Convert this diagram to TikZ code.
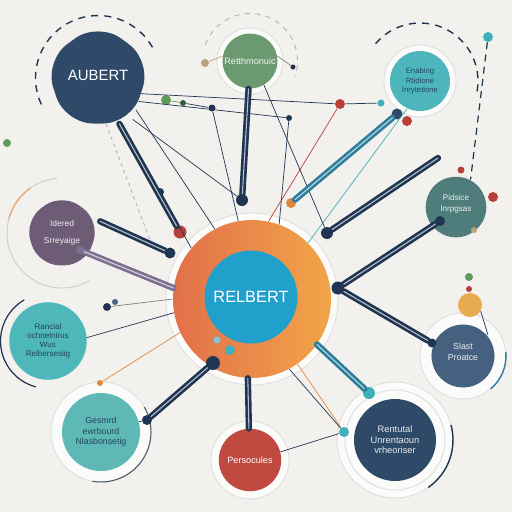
\documentclass[tikz,border=0pt]{standalone}
\usepackage{fontspec}
\setmainfont{Liberation Sans}
\usetikzlibrary{shapes.geometric}
\pgfdeclarelayer{back}
\pgfsetlayers{back,main}

\definecolor{paper}{HTML}{F3F1EE}
\definecolor{ringgray}{HTML}{DFE1E3}
\definecolor{navy}{HTML}{1F3552}
\definecolor{aubnavy}{HTML}{2F4A68}
\definecolor{rethgreen}{HTML}{6B9A70}
\definecolor{enabteal}{HTML}{4DB6BD}
\definecolor{iderplum}{HTML}{6E5B76}
\definecolor{pidsgreen}{HTML}{4F7D7B}
\definecolor{ranteal}{HTML}{4DB7BA}
\definecolor{gesteal}{HTML}{5EB9B6}
\definecolor{persred}{HTML}{C14A40}
\definecolor{slastblue}{HTML}{46617F}
\definecolor{sunorange}{HTML}{E9AB52}
\definecolor{coreL}{HTML}{E2704A}
\definecolor{coreR}{HTML}{F2A548}
\definecolor{relblue}{HTML}{22A0CC}
\definecolor{rodteal}{HTML}{2C7E9C}
\definecolor{rodplum}{HTML}{7C7090}
\definecolor{dotred}{HTML}{B8403A}
\definecolor{dotgreen}{HTML}{5E9A5C}
\definecolor{dottan}{HTML}{B7A47C}
\definecolor{dotteal}{HTML}{3FB0BA}
\definecolor{wireorange}{HTML}{E0873E}
\definecolor{inktext}{HTML}{24465C}

\begin{document}
\begin{tikzpicture}[x=0.02cm, y=-0.02cm,
    topic/.style={circle, inner sep=0pt, align=center},  % round topic
    blob/.style={regular polygon, regular polygon sides=5, rounded corners=12pt, inner sep=0pt, align=center},  % soft pentagon topic
    rod/.style={draw=#1, line width=1.5pt, double=#1!30!white, double distance=0.6pt, line cap=round},
    rod/.default=navy,
    wire/.style={draw=#1, line width=0.4pt},
    wire/.default=navy,
    halo/.style={draw=ringgray, line width=0.6pt, fill=white!70!paper},
    bead/.style={circle, fill=#1, inner sep=0pt}
  ]
    \useasboundingbox (0,0) rectangle (512,512);

    % hub
    \node[topic, minimum size=3.16cm, left color=coreL, right color=coreR] (core) at (252,299) {};
    \node[topic, minimum size=1.86cm, fill=relblue, text=white, font=\fontsize{9.3}{11}\selectfont] (relbert) at (251,297) {RELBERT};

    % topics
    \node[blob, minimum size=2.25cm, rounded corners=16pt, fill=aubnavy, text=white, font=\fontsize{8.5}{10}\selectfont] (aubert) at (98,78) {\raisebox{3pt}{AUBERT}};
    \node[topic, minimum size=1.1cm, fill=rethgreen, text=white!90!rethgreen, font=\fontsize{5.2}{6.5}\selectfont] (reth) at (250,61) {Retthmonuic};
    \node[topic, minimum size=1.2cm, fill=enabteal, text=inktext, font=\fontsize{4.4}{5.2}\selectfont] (enab) at (420,81) {Enabing\\Rtidione\\Inrytetione};
    \node[blob, minimum size=1.6cm, fill=iderplum, text=white!90!iderplum, font=\fontsize{4.8}{10}\selectfont] (ider) at (62,233) {Idered\\Srreyaige};
    \node[blob, minimum size=1.5cm, fill=pidsgreen, text=white!88!pidsgreen, font=\fontsize{4.6}{5.5}\selectfont] (pids) at (456,207) {\raisebox{4pt}{\shortstack{Pidsice\\Inrpgsas}}};
    \node[topic, minimum size=1.55cm, fill=ranteal, text=inktext, font=\fontsize{4.6}{5.2}\selectfont] (ranc) at (48,341) {Rancial\\ochnelnirus\\Wus\\Relbersesiig};
    \node[topic, minimum size=1.56cm, fill=gesteal, text=inktext, font=\fontsize{5}{6}\selectfont] (gesm) at (101,432) {Gesmrd\\ewrbourd\\Nlasbonsetig};
    \node[topic, minimum size=1.25cm, fill=persred, text=white, font=\fontsize{5.2}{6}\selectfont] (pers) at (250,460) {Persocules};
    \node[topic, minimum size=1.64cm, fill=aubnavy, text=white!88!aubnavy, font=\fontsize{5.3}{6}\selectfont] (rent) at (395,440) {Rentutal\\Unrentaoun\\vrheoriser};
    \node[blob, minimum size=1.55cm, fill=slastblue, text=white!88!slastblue, font=\fontsize{5}{5.7}\selectfont] (slast) at (463,356) {\raisebox{5pt}{\shortstack{Slast\\Proatce}}};
    \node[topic, minimum size=0.48cm, fill=sunorange] (sun) at (470,305) {};

    % beads
    \foreach \n/\x/\y/\c/\s in {
        tdotA/488/37/dotteal/0.2cm, redA/340/104/dotred/0.2cm, tealA/381/103/dotteal/0.14cm,
        redB/407/121/dotred/0.2cm, navyA/397/114/aubnavy/0.22cm, greenA/166/100/dotgreen/0.2cm,
        greenB/183/103/dotgreen!60!black/0.12cm, tanA/205/63/dottan/0.16cm, greenC/7/143/dotgreen/0.16cm,
        greenD/469/277/dotgreen/0.16cm, redC/469/289/dotred/0.12cm, redD/493/197/dotred/0.2cm,
        redE/461/170/dotred/0.14cm, tanB/474/230/dottan/0.12cm, navyB/160/192/navy/0.16cm,
        navyC/107/307/navy/0.16cm, grayA/115/302/slastblue/0.12cm, tealB/230/350/dotteal/0.2cm,
        blueA/217/340/relblue!60/0.14cm, orangeA/100/383/wireorange/0.12cm, redF/180/232/dotred/0.26cm,
        navyD/170/253/navy/0.22cm, navyE/338/288/navy/0.26cm, navyF/327/233/navy/0.24cm,
        orangeB/291/203/wireorange/0.2cm, navyG/242/200/navy/0.24cm, tealC/369/393/dotteal/0.24cm,
        tealD/344/432/dotteal/0.2cm, navyH/213/363/navy/0.28cm, navyI/147/420/navy/0.2cm,
        purpleA/80/250/rodplum/0.16cm, navyJ/293/67/navy/0.1cm, navyK/289/118/navy/0.12cm,
        navyL/212/108/navy/0.14cm, pidsend/440/221/navy/0.2cm, slastend/432/343/navy/0.18cm}
      \node[bead=\c, minimum size=\s] (\n) at (\x,\y) {};
    \coordinate (r9end) at (438,158);
    \coordinate (dashend) at (150,240);

    % rims and halos
    \begin{pgfonlayer}{back}
      \fill[paper] (0,0) rectangle (512,512);
      \draw[halo] (core.center) circle[radius=1.72cm];
      \draw[halo] (reth.center) circle[radius=0.66cm];
      \draw[halo] (enab.center) circle[radius=0.72cm];
      \draw[halo] (gesm.center) circle[radius=1cm];
      \draw[halo] (pers.center) circle[radius=0.78cm];
      \draw[halo] (rent.center) circle[radius=1.16cm];
      \draw[ringgray, line width=0.6pt] (rent.center) circle[radius=1cm];
      \draw[halo] (slast.center) circle[radius=0.86cm];
      \draw[gray!40, line width=0.5pt] ([shift={(95:1.1cm)}]ider.center) arc[start angle=95, end angle=300, radius=1.1cm];
      \draw[wireorange!70, line width=0.8pt] ([shift={(125:1.1cm)}]ider.center) arc[start angle=125, end angle=165, radius=1.1cm];
      \draw[navy, line width=0.7pt] ([shift={(120:0.95cm)}]ranc.center) arc[start angle=120, end angle=255, radius=0.95cm];
      \draw[gray!50!navy, line width=0.6pt] ([shift={(-100:1cm)}]gesm.center) arc[start angle=-100, end angle=30, radius=1cm];
      \draw[navy, line width=0.8pt] ([shift={(-55:1.16cm)}]rent.center) arc[start angle=-55, end angle=15, radius=1.16cm];
      \draw[rodteal, line width=0.8pt] ([shift={(-50:0.86cm)}]slast.center) arc[start angle=-50, end angle=5, radius=0.86cm];
    \end{pgfonlayer}

    % dashed outlines
    \draw[navy, line width=0.8pt, dash pattern=on 4pt off 3.5pt] ([shift={(205:1.25cm)}]aubert.center) arc[start angle=205, end angle=28, radius=1.25cm];
    \draw[gray!60, line width=0.5pt, dash pattern=on 3pt off 3pt] ([shift={(160:0.95cm)}]reth.center) arc[start angle=160, end angle=-20, radius=0.95cm];
    \draw[navy, line width=0.8pt, dash pattern=on 4pt off 3.5pt] ([shift={(140:1.16cm)}]enab.center) arc[start angle=140, end angle=-12, radius=1.16cm];
    \draw[navy, line width=0.7pt, dash pattern=on 4pt off 3pt] (tdotA) -- (pids.62);
    \draw[gray!60, line width=0.5pt, dash pattern=on 2pt off 2pt] (aubert.-80) -- (dashend);

    % thin wires
    \draw[wire] (aubert.-20) -- (redA);
    \draw[wire] (redA) -- (tealA);
    \draw[wire=dotgreen] (greenA) -- (greenB);
    \draw[wire] (aubert.-40) -- (core.118);
    \draw[wire] (navyL) -- (core.100);
    \draw[wire] (greenB) -- (navyL);
    \draw[wire] (aubert.-30) -- (navyK);
    \draw[wire] (navyK) -- (core.70);
    \draw[wire=gray] (navyJ) -- (reth.10);
    \draw[wire=wireorange] (orangeA) -- (core.205);
    \draw[wire] (ranc.5) -- (core.190);
    \draw[wire] (pers.15) -- (tealD);
    \draw[wire=wireorange] (core.-55) -- (tealD);
    \draw[wire] (core.-62) -- (tealD);
    \draw[wire=dotteal] (core.45) -- (enab.-115);
    \draw[wire=dotred] (redA) -- (core.78);
    \draw[wire] (navyB) -- (core.140);
    \draw[wire=gray] (navyC) -- (core.180);
    \draw[wire] (reth.-60) -- (navyF);
    \draw[wire] (aubert.-50) -- (navyG);
    \draw[wire] (gesm.15) -- (navyI);
    \draw[wire=dottan] (tanA) -- (reth.170);
    \draw[wire] (sun.-30) -- (slast.40);

    % rods
    \draw[rod] (aubert.-65) -- (redF);
    \draw[rod] (ider.17) -- (navyD);
    \draw[rod=rodplum] (purpleA) -- (core.172);
    \draw[rod] (navyI) -- (navyH);
    \draw[rod] (core.-93) -- (pers.92);
    \draw[rod=rodteal] (core.-35) -- (tealC);
    \draw[rod] (navyE) -- (pidsend);
    \draw[rod] (navyE) -- (slastend);
    \draw[rod] (navyF) -- (r9end);
    \draw[rod=rodteal] (orangeB) -- (navyA);
    \draw[rod] (reth.-93) -- (navyG);
\end{tikzpicture}
\end{document}
